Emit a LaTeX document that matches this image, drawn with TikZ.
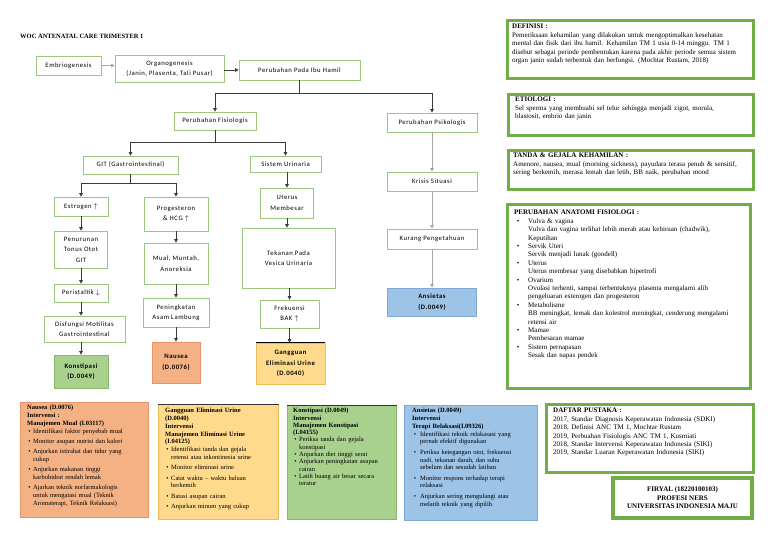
\documentclass[tikz,border=0pt]{standalone}
\usepackage{fontspec}
\setmainfont{Liberation Serif}
\newfontfamily\flowfont[LetterSpace=8]{Carlito}
\usepackage{enumitem}
\usetikzlibrary{arrows.meta}
\definecolor{flowline}{HTML}{9CC77F}
\definecolor{infogreen}{HTML}{70AD47}
\definecolor{konfill}{HTML}{A9D18E}
\definecolor{konline}{HTML}{86B968}
\definecolor{naufill}{HTML}{F4B183}
\definecolor{nauline}{HTML}{E8946A}
\definecolor{ganfill}{HTML}{FFD98C}
\definecolor{ganline}{HTML}{EDBB55}
\definecolor{ansfill}{HTML}{9DC3E6}
\definecolor{ansline}{HTML}{7EA9D6}
\definecolor{arrowgray}{HTML}{3A3A3A}
\setlist[itemize]{nosep, leftmargin=6pt, labelsep=2.5pt, label=\textbullet}

\tikzset{
    flowbox/.style={draw=flowline, fill=white, line width=0.7pt, align=center, inner sep=1pt,
        font=\flowfont\fontsize{6.7}{10.5}\selectfont},
    diagbox/.style={flowbox, font=\flowfont\bfseries\fontsize{6.7}{10.5}\selectfont},
    infobox/.style={draw=infogreen, line width=3.2pt, fill=white, inner sep=0pt},
    infotext/.style={anchor=north west, inner sep=0pt, align=left, text width=#1,
        font=\fontsize{7}{8.4}\selectfont},
    planbox/.style={line width=0.8pt, inner sep=0pt},
    plantext/.style={anchor=north west, inner sep=0pt, align=left, text width=#1,
        font=\fontsize{6.5}{7.8}\selectfont},
    flowarrow/.style={draw=arrowgray, line width=0.6pt, ->},
    grayarrow/.style={draw=gray!70, line width=0.8pt, ->},
}

\begin{document}
\begin{tikzpicture}[x=1pt, y=-1pt, >={Triangle[length=3.5pt,width=3.5pt]}]
    \useasboundingbox (0,0) rectangle (768,543);
    \node[anchor=west, inner sep=0pt, font=\bfseries\fontsize{6.5}{8}\selectfont] (title) at (20,36) {WOC ANTENATAL CARE TRIMESTER 1};

    % alur utama
    \node[flowbox, minimum width=65, minimum height=19] (emb) at (68.5,65.5) {Embriogenesis};
    \node[flowbox, minimum width=109, minimum height=27] (org) at (169.5,68.5) {Organogenesis\\(Janin, Plasenta, Tali Pusar)};
    \node[flowbox, minimum width=121, minimum height=20] (ibu) at (299.5,70) {Perubahan Pada Ibu Hamil};
    \node[flowbox, minimum width=82, minimum height=18] (fis) at (215,121) {Perubahan Fisiologis};
    \node[flowbox, minimum width=90, minimum height=19] (psi) at (432,122.5) {Perubahan Psikologis};

    \draw[grayarrow] (emb.east) -- (emb -| org.west);
    \draw[flowarrow] (org.east |- ibu) -- (ibu.west);
    \coordinate (split1) at ([yshift=-13]ibu.south);
    \draw[flowarrow] (ibu.south) -- (split1) -| (fis.north);
    \draw[flowarrow] (split1) -| (psi.north);

    % fisiologis
    \node[flowbox, minimum width=95, minimum height=18] (git) at (130.5,165) {GIT (Gastrointestinal)};
    \node[flowbox, minimum width=71, minimum height=16] (uri) at (285.5,164) {Sistem Urinaria};
    \coordinate (split2) at ([yshift=-12]fis.south);
    \draw[flowarrow] (fis.south) -- (split2) -| (git.north);
    \draw[flowarrow] (split2) -| (uri.north);

    \node[flowbox, minimum width=54, minimum height=19] (est) at (81,206.5) {Estrogen $\uparrow$};
    \node[flowbox, minimum width=53, minimum height=37] (pen) at (81,249.5) {Penurunan\\Tonus Otot\\GIT};
    \node[flowbox, minimum width=54, minimum height=18] (per) at (81,293) {Peristaltik $\downarrow$};
    \node[flowbox, minimum width=81, minimum height=26] (dis) at (84.5,329) {Disfungsi Motilitas\\Gastrointestinal};
    \node[diagbox, fill=konfill, draw=konline, minimum width=54, minimum height=33] (kon) at (81,371.5) {Konstipasi\\(D.0049)};

    \node[flowbox, minimum width=64, minimum height=34] (pro) at (176,214) {Progesteron\\\& HCG $\uparrow$};
    \node[flowbox, minimum width=64, minimum height=41] (mua) at (176,263.5) {Mual, Muntah,\\Anoreksia};
    \node[flowbox, minimum width=66, minimum height=29] (asa) at (176,312.5) {Peningkatan\\Asam Lambung};
    \node[diagbox, fill=naufill, draw=nauline, minimum width=48, minimum height=41] (nau) at (176,362.5) {Nausea\\(D.0076)};

    \coordinate (split3) at ([yshift=-9]git.south);
    \draw[flowarrow] (git.south) -- (split3) -| (est.north);
    \draw[flowarrow] (split3) -| (pro.north);
    \draw[flowarrow] (est) -- (pen);
    \draw[flowarrow] (pen) -- (per);
    \draw[flowarrow] (per.south) -- (per.south |- dis.north);
    \draw[flowarrow] (kon.north |- dis.south) -- (kon.north);
    \draw[flowarrow] (pro) -- (mua);
    \draw[flowarrow] (mua) -- (asa);
    \draw[flowarrow] (asa) -- (nau);

    \node[flowbox, minimum width=53, minimum height=30] (ute) at (287,203) {Uterus\\Membesar};
    \node[flowbox, minimum width=93, minimum height=60] (tek) at (288.5,258) {Tekanan Pada\\Vesica Urinaria};
    \node[flowbox, minimum width=59, minimum height=28] (fre) at (289.5,314) {Frekuensi\\BAK $\uparrow$};
    \node[diagbox, fill=ganfill, draw=ganline, minimum width=69, minimum height=41] (gan) at (290.5,363.5) {Gangguan\\Eliminasi Urine\\(D.0040)};
    \draw[black, line width=0.8pt] (gan.north west) -- (gan.north east);

    \draw[flowarrow] (uri.south -| ute.north) -- (ute.north);
    \draw[flowarrow] (ute.south) -- (ute.south |- tek.north);
    \draw[flowarrow] (fre.north |- tek.south) -- (fre.north);
    \draw[flowarrow] (fre) -- (fre |- gan.north);

    % psikologis
    \node[flowbox, minimum width=90, minimum height=19] (kri) at (432,181.5) {Krisis Situasi};
    \node[flowbox, minimum width=90, minimum height=20] (kur) at (432,239) {Kurang Pengetahuan};
    \node[diagbox, fill=ansfill, draw=ansline, minimum width=89, minimum height=28] (ans) at (432,302) {Ansietas\\(D.0049)};
    \draw[grayarrow] (psi) -- (kri);
    \draw[grayarrow] (kri) -- (kur);
    \draw[grayarrow] (kur) -- (ans);

    % kotak keterangan kanan
    \node[infobox, anchor=north west, minimum width=246, minimum height=58] (def) at (506,19) {};
    \node[infotext=240] (deftext) at (512,24) {\textbf{DEFINISI :}\\
        Pemeriksaan kehamilan yang dilakukan untuk mengoptimalkan kesehatan\\
        mental dan fisik dari ibu hamil. Kehamilan TM 1 usia 0-14 minggu. TM 1\\
        disebut sebagai periode pembentukan karena pada akhir periode semua sistem\\
        organ janin sudah terbentuk dan berfungsi. (Mochtar Rustam, 2018)};

    \node[infobox, anchor=north west, minimum width=245, minimum height=41] (eti) at (507,93) {};
    \node[infotext=238] (etitext) at (515,97) {\textbf{ETIOLOGI :}\\
        Sel sperma yang membuahi sel telur sehingga menjadi zigot, morula,\\
        blastosit, embrio dan janin};

    \node[infobox, anchor=north west, minimum width=245, minimum height=39] (tan) at (507,149) {};
    \node[infotext=240] (tantext) at (513,153) {\textbf{TANDA \& GEJALA KEHAMILAN :}\\
        Amenore, nausea, mual (morning sickness), payudara terasa penuh \& sensitif,\\
        sering berkemih, merasa lemah dan letih, BB naik, perubahan mood};

    \node[infobox, anchor=north west, minimum width=243, minimum height=184] (ana) at (506,203) {};
    \node[infotext=232] (anatext) at (514,210) {\textbf{PERUBAHAN ANATOMI FISIOLOGI :}
        \begin{itemize}[leftmargin=14pt, labelsep=9pt]
            \item Vulva \& vagina\\
                Vulva dan vagina terlihat lebih merah atau kebiruan (chadwik),\\
                Keputihan
            \item Servik Uteri\\
                Servik menjadi lunak (goodell)
            \item Uterus\\
                Uterus membesar yang disebabkan hipertrofi
            \item Ovarium\\
                Ovulasi terhenti, sampai terbentuknya plasenta mengalami alih\\
                pengeluaran esterogen dan progesteron
            \item Metabolisme\\
                BB meningkat, lemak dan kolestrol meningkat, cenderung mengalami\\
                retensi air
            \item Mamae\\
                Pembesaran mamae
            \item Sistem pernapasan\\
                Sesak dan napas pendek
        \end{itemize}};

    \node[infobox, anchor=north west, minimum width=207, minimum height=68] (daf) at (545,403) {};
    \node[infotext=200] (daftext) at (553,408) {\textbf{DAFTAR PUSTAKA :}\\
        2017, Standar Diagnosis Keperawatan Indonesia (SDKI)\\
        2018, Definisi ANC TM 1, Mochtar Rustam\\
        2019, Perbuahan Fisiologis ANC TM 1, Kusmiati\\
        2018, Standar Intervensi Keperawatan Indonesia (SIKI)\\
        2019, Standar Luaran Keperawatan Indonesia (SIKI)};

    \node[infobox, minimum width=139, minimum height=40, align=center,
        font=\bfseries\fontsize{7}{8.4}\selectfont] (fir) at (682.5,498)
        {FIRYAL (18220100103)\\PROFESI NERS\\UNIVERSITAS INDONESIA MAJU};

    % rencana intervensi
    \node[planbox, draw=nauline, fill=naufill, anchor=north west, minimum width=128, minimum height=115] (inau) at (20,402) {};
    \node[plantext=118] (inautext) at (27,405) {\textbf{Nausea (D.0076)}\\
        \textbf{Intervensi :}\\
        \textbf{Manajemen Mual (I.03117)}
        \begin{itemize}[itemsep=2.5pt]
            \item Identifikasi faktor penyebab mual
            \item Monitor asupan nutrisi dan kalori
            \item Anjurkan istirahat dan tidur yang\\cukup
            \item Anjurkan makanan tinggi\\karbohidrat rendah lemak
            \item Ajarkan teknik norfarmakologis\\untuk mengatasi mual (Teknik\\Aromaterapi, Teknik Relaksasi)
        \end{itemize}};

    \node[planbox, draw=ganline, fill=ganfill, anchor=north west, minimum width=120, minimum height=115] (igan) at (158,404) {};
    \draw[black!80, line width=0.9pt] (igan.north west) -- (igan.north east);
    \node[plantext=110] (igantext) at (165,408) {\textbf{Gangguan Eliminasi Urine}\\
        \textbf{(D.0040)}\\
        \textbf{Intervensi}\\
        \textbf{Manajemen Eliminasi Urine}\\
        \textbf{(I.04125)}
        \begin{itemize}[itemsep=2.5pt]
            \item Identifikasi tanda dan gejala\\retensi atau inkontinesia urine
            \item Monitor eliminasi urine
            \item Catat waktu -- waktu haluan\\berkemih
            \item Batasi asupan cairan
            \item Anjurkan minum yang cukup
        \end{itemize}};

    \node[planbox, draw=konline, fill=konfill, anchor=north west, minimum width=109, minimum height=114] (ikon) at (287,405) {};
    \draw[black!80, line width=0.9pt] (ikon.north west) -- (ikon.north east);
    \node[plantext=100, font=\fontsize{6.5}{7.3}\selectfont] (ikontext) at (293,408) {\textbf{Konstipasi (D.0049)}\\
        \textbf{Intervensi}\\
        \textbf{Manajemen Konstipasi}\\
        \textbf{(I.04155)}
        \begin{itemize}
            \item Periksa tanda dan gejala\\konstipasi
            \item Anjurkan diet tinggi serat
            \item Anjurkan peningkatan asupan\\cairan
            \item Latih buang air besar secara\\teratur
        \end{itemize}};

    \node[planbox, draw=ansline, fill=ansfill, anchor=north west, minimum width=133, minimum height=115] (ians) at (404,405) {};
    \node[plantext=124] (ianstext) at (412,408) {\textbf{Ansietas (D.0049)}\\
        \textbf{Intervensi}\\
        \textbf{Terapi Relaksasi(I.09326)}
        \begin{itemize}[leftmargin=8pt, labelsep=4pt, itemsep=2.5pt]
            \item Identifikasi teknik relakasasi yang\\pernah efektif digunakan
            \item Periksa ketegangan otot, frekuensi\\nadi, tekanan darah, dan suhu\\sebelum dan sesudah latihan
            \item Monitor respons terhadap terapi\\relaksasi
            \item Anjurkan sering mengulangi atau\\melatih teknik yang dipilih
        \end{itemize}};
\end{tikzpicture}
\end{document}
